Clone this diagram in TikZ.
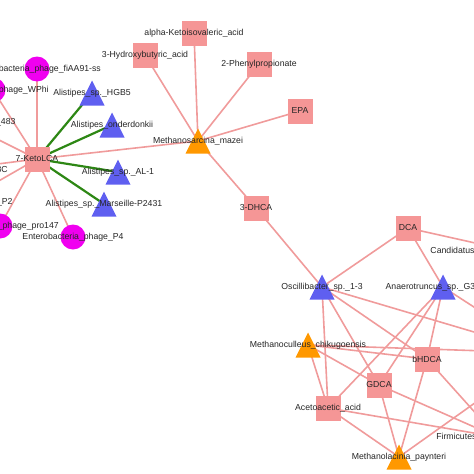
\documentclass[tikz,border=0pt]{standalone}
\usepackage{fontspec}
\setmainfont{Liberation Sans}
\usetikzlibrary{backgrounds}
\definecolor{sqpink}{RGB}{245,150,150}
\definecolor{lnpink}{RGB}{240,155,155}
\definecolor{bacblue}{RGB}{95,95,240}
\definecolor{arcorange}{RGB}{255,152,0}
\definecolor{phgmag}{RGB}{240,0,240}
\definecolor{lnkgreen}{RGB}{45,135,20}

\begin{document}
\begin{tikzpicture}[x=1pt, y=-1pt, font=\fontsize{8.7}{10}\selectfont, text=black!85,
  met/.style={rectangle, fill=sqpink, minimum size=25pt, inner sep=0pt},
  tri/.style={rectangle, minimum size=25pt, inner sep=0pt,
    path picture={\fill[#1] (path picture bounding box.south west) -- (path picture bounding box.south east) -- (path picture bounding box.north) -- cycle;}},
  bac/.style={tri=bacblue},
  arc/.style={tri=arcorange},
  phg/.style={circle, fill=phgmag, minimum size=25pt, inner sep=0pt},
  lnk/.style={draw=lnpink, line width=1.6pt},
  grn/.style={draw=lnkgreen, line width=2.2pt}]
\useasboundingbox (0,0) rectangle (474,474);
\clip (0,0) rectangle (474,474);
% upper left: the 7-KetoLCA star, phages and Alistipes
\node[met, label={center:7-KetoLCA}] (keto) at (37,159) {};
\node[phg, label={center:Enterobacteria\_phage\_fiAA91-ss}] (fiaa) at (37,69) {};
\node[phg, label={center:Enterobacteria\_phage\_WPhi}] (wphi) at (-7,90) {};
\node[phg, label={center:Enterobacteria\_phage\_483}] (ph483) at (-37,122) {};
\node[phg, label={center:Enterobacteria\_phage\_WV8C}] (phc) at (-50,170) {};
\node[phg, label={center:Enterobacteria\_phage\_P2}] (php2) at (-38,202) {};
\node[phg, label={center:Enterobacteria\_phage\_pro147}] (pro) at (0,226) {};
\node[phg, label={center:Enterobacteria\_phage\_P4}] (php4) at (73,237) {};
\node[bac, label={center:Alistipes\_sp.\_HGB5}] (hgb) at (92,93) {};
\node[bac, label={center:Alistipes\_onderdonkii}] (ond) at (112,125) {};
\node[bac, label={center:Alistipes\_sp.\_AL-1}] (alone) at (118,172) {};
\node[bac, label={center:Alistipes\_sp.\_Marseille-P2431}] (mars) at (104,204) {};
% upper middle: Methanosarcina and its metabolites
\node[arc, label={center:Methanosarcina\_mazei}] (mazei) at (198,141) {};
\node[met, label={center:3-Hydroxybutyric\_acid}] (hyd) at (145,55) {};
\node[met, label={center:alpha-Ketoisovaleric\_acid}] (akiv) at (194,33) {};
\node[met, label={center:2-Phenylpropionate}] (phen) at (259,64) {};
\node[met, label={center:EPA}] (epa) at (300,111) {};
\node[met, label={center:3-DHCA}] (dhca) at (256,208) {};
% lower right cluster
\node[met, label={center:DCA}] (dca) at (408,228) {};
\node[bac, label={center:Candidatus\_Methanomethylophilus\_alvus}] (cand) at (511,251) {};
\node[bac, label={center:Oscillibacter\_sp.\_1-3}] (osc) at (322,287) {};
\node[bac, label={center:Anaerotruncus\_sp.\_G3(2012)}] (anae) at (443,287) {};
\node[arc, label={center:Methanoculleus\_chikugoensis}] (mcul) at (308,345) {};
\node[met, label={center:bHDCA}] (bhdca) at (427,359) {};
\node[met, label={center:GDCA}] (gdca) at (379,385) {};
\node[met, label={center:Acetoacetic\_acid}] (aceto) at (328,408) {};
\node[arc, label={center:Methanolacinia\_paynteri}] (mlac) at (399,457) {};
\node[bac, label={center:Firmicutes\_bacterium\_CAG\_83}] (firm) at (497,437) {};
\coordinate (xout) at (545,353);
% connectors under the nodes
\begin{scope}[on background layer]
\foreach \a/\b in {keto/fiaa, keto/wphi, keto/ph483, keto/phc, keto/php2, keto/pro, keto/php4, keto/mazei,
    mazei/hyd, mazei/akiv, mazei/phen, mazei/epa, mazei/dhca, dhca/osc,
    dca/osc, dca/anae, dca/cand, osc/aceto, osc/gdca, osc/bhdca, osc/xout,
    anae/aceto, anae/gdca, anae/bhdca, anae/xout, mcul/xout, mcul/bhdca, mcul/aceto, mcul/gdca,
    bhdca/mlac, bhdca/firm, gdca/mlac, gdca/firm, aceto/mlac, aceto/firm, mlac/xout}
  \draw[lnk] (\a.center) -- (\b.center);
\foreach \b in {hgb, ond, alone, mars}
  \draw[grn] (keto.center) -- (\b.center);
\end{scope}
\end{tikzpicture}
\end{document}
